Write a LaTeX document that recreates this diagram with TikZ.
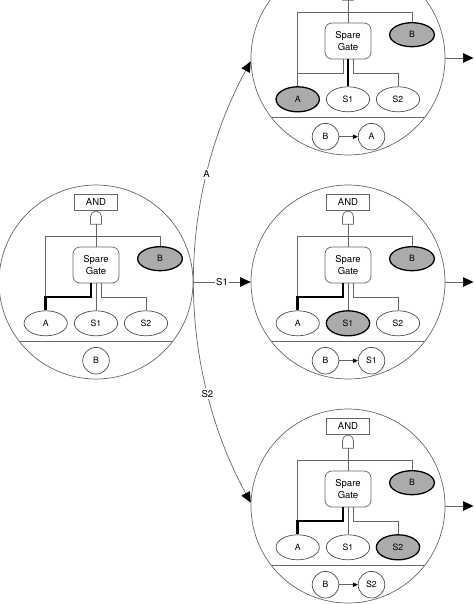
\documentclass[tikz,border=0pt]{standalone}
\usepackage{fontspec}
\setmainfont{TeX Gyre Heros}
\usetikzlibrary{arrows.meta,shapes.geometric}
\tikzset{
 gline/.style={draw=black!60, line width=0.7pt},
 thickline/.style={draw=black, line width=2.6pt},
 bigcirc/.style={circle, draw=black!60, line width=0.7pt, minimum size=194pt, inner sep=0pt},
 andbox/.style={rectangle, draw=black!60, line width=0.7pt, fill=white, minimum width=43pt, minimum height=16pt, inner sep=0pt, font=\fontsize{9.5}{11}\selectfont},
 sgbox/.style={rectangle, rounded corners=7pt, draw=black!60, fill=white, line width=0.7pt, minimum width=46pt, minimum height=36pt, inner sep=0pt, align=center, font=\fontsize{9.5}{11.5}\selectfont},
 ev/.style={ellipse, draw=black!70, fill=white, line width=0.7pt, minimum width=43.3pt, minimum height=25pt, inner sep=0pt, font=\fontsize{8.7}{10}\selectfont},
 evg/.style={ev, draw=black, fill=black!33, line width=1.3pt},
 smallc/.style={circle, draw=black!70, fill=white, line width=0.7pt, minimum size=26.6pt, inner sep=0pt, font=\fontsize{8.7}{10}\selectfont},
 conn/.style={draw=black!60, line width=0.7pt, -{Triangle[length=10.5pt,width=9.5pt,color=black]}},
 sconn/.style={draw=black!60, line width=0.7pt, -{Triangle[length=5pt,width=4.5pt,color=black]}},
 lab/.style={fill=white, inner sep=1.5pt, font=\fontsize{9.5}{11}\selectfont},
}
% #1 prefix, #2 x, #3 y, #4 A style, #5 S1 style, #6 S2 style, #7 path to A, #8 path to S1
\newcommand{\ftpanel}[8]{%
 \node[bigcirc] (#1) at (#2,#3) {};
 \begin{scope}[shift={(#2,#3)}]
  \draw[gline, fill=white] (-5.5,-57.7) -- (-5.5,-65.5) arc[start angle=180, end angle=360, radius=5.5] -- (5.5,-57.7) -- cycle;
  \coordinate (#1gate) at (0,-57.7);
  \coordinate (#1bar) at (0,-45.3);
  \node[sgbox] (#1sg) at (0,-17) {Spare\\Gate};
  \node[evg, minimum width=44.7pt, minimum height=24pt] (#1B) at (64,-23.3) {B};
  \node[#4] (#1A) at (-50.3,41.3) {A};
  \node[#5] (#1S1) at (0,41.3) {S1};
  \node[#6] (#1S2) at (50,41.3) {S2};
  \draw[gline] (#1gate) -- (#1sg.north);
  \draw[gline] (#1A.north) |- (#1bar) -| (#1B.north);
  \draw[gline] (#1sg.south) ++(5,0) -- ++(0,13.7) -| (#1S2.north);
  \draw[#8] (#1sg.south) -- (#1S1.north);
  \draw[#7] (#1sg.south) ++(-5,0) -- ++(0,13.7) -| (#1A.north);
  \draw[gline] (-76.4,59.7) -- (76.4,59.7);
 \end{scope}}
\begin{document}
\begin{tikzpicture}[x=1pt, y=-1pt]
\useasboundingbox (0,0) rectangle (474,604);
\clip (0,0) rectangle (474,604);
\ftpanel{L}{96}{282}{ev}{ev}{ev}{thickline}{gline}
\ftpanel{T}{348}{58}{evg}{ev}{ev}{gline}{thickline}
\ftpanel{M}{348}{282}{ev}{evg}{ev}{thickline}{gline}
\ftpanel{D}{348}{506}{ev}{ev}{evg}{thickline}{gline}
% AND boxes (the top panel's box lies above the visible area)
\node[andbox] (Land) at (96,202) {AND};
\node[andbox] (Mand) at (348,202) {AND};
\node[andbox] (Dand) at (348,426) {AND};
% bottom rows (state sequences)
\node[smallc] (Lb) at (96,360.7) {B};
\node[smallc] (Tb) at (325.5,136.7) {B};
\node[smallc] (Tx) at (371.5,136.7) {A};
\draw[sconn] (Tb) -- (Tx);
\node[smallc] (Mb) at (325.5,360.7) {B};
\node[smallc] (Mx) at (371.5,360.7) {S1};
\draw[sconn] (Mb) -- (Mx);
\node[smallc] (Db) at (325.5,584.7) {B};
\node[smallc] (Dx) at (371.5,584.7) {S2};
\draw[sconn] (Db) -- (Dx);
% transitions
\draw[conn] (L.east) -- node[lab]{S1} (M.west);
\draw[conn] (L.east) .. controls +(0,-78) and +(-37.4,68.6) .. node[lab,pos=0.475]{A} (T.182);
\draw[conn] (L.east) .. controls +(0,78) and +(-37.4,-68.6) .. node[lab,pos=0.49]{S2} (D.178);
\coordinate (Tout) at (473.5,58);
\coordinate (Mout) at (473.5,282);
\coordinate (Dout) at (473.5,506);
\draw[conn] (T.east) -- (Tout);
\draw[conn] (M.east) -- (Mout);
\draw[conn] (D.east) -- (Dout);
\end{tikzpicture}
\end{document}
